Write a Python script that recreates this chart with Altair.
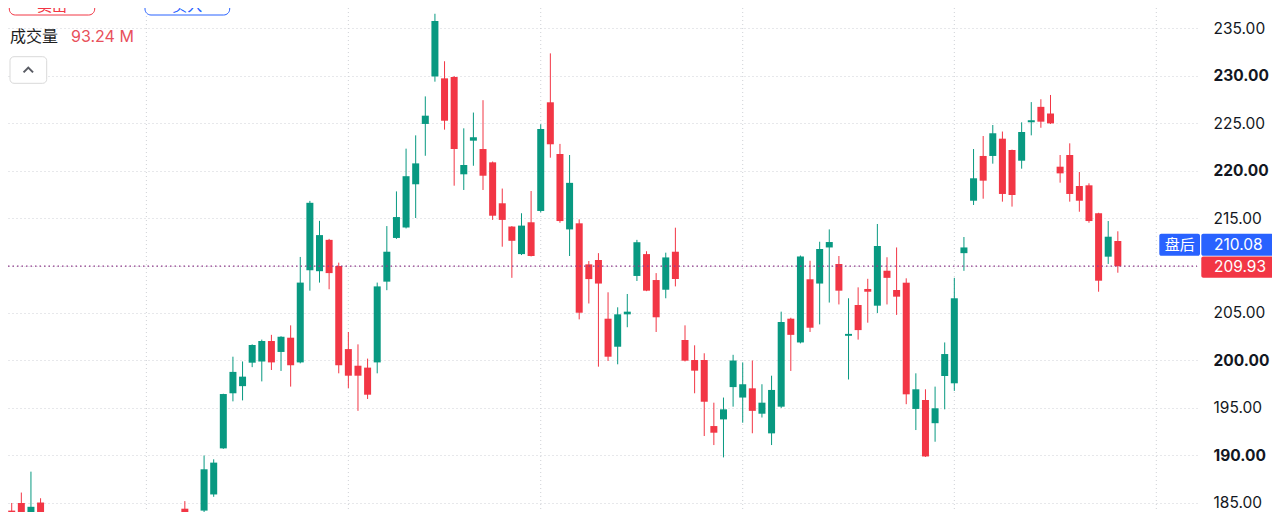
import altair as alt
import pandas as pd

# ---- candle data (x = bar index, prices in USD) ----
idx = [0, 1, 2, 3, 4, 19,
       21, 22, 23, 24, 25, 26, 27, 28, 29, 30,
       31, 32, 33, 34, 35, 36, 37, 38, 39, 40,
       41, 42, 43, 44, 45, 46, 47, 48, 49, 50,
       51, 52, 53, 54, 55, 56, 57, 58, 59, 60,
       61, 62, 63, 64, 65, 66, 67, 68, 69, 70,
       71, 72, 73, 74, 75, 76, 77, 78, 79, 80,
       81, 82, 83, 84, 85, 86, 87, 88, 89, 90,
       91, 92, 93, 94, 95, 96, 97, 98, 99, 100,
       101, 102, 103, 104, 105, 106, 107, 108, 109, 110,
       111, 112, 113, 114, 115, 116]

opens = [183.5, 184.2, 185.0, 182.5, 185.05, 184.4,
         184.2, 185.9, 190.75, 196.55, 197.3, 199.77, 199.9, 202.05, 200.9, 202.4,
         199.8, 209.5, 209.4, 212.7, 209.95, 201.2, 199.45, 199.25, 199.8, 208.3,
         212.9, 214.0, 218.55, 224.9, 229.9, 229.7, 229.84, 219.6, 223.14, 222.26,
         220.86, 216.55, 214.1, 211.2, 214.55, 215.74, 227.18, 221.74, 213.8, 214.44,
         210.12, 210.58, 204.4, 201.45, 204.86, 208.9, 211.2, 208.47, 207.45, 211.45,
         202.16, 200.05, 200.05, 193.1, 193.8, 197.2, 196.1, 197.07, 194.4, 192.33,
         195.14, 204.4, 201.9, 208.55, 208.1, 211.9, 210.16, 202.6, 205.84, 207.53,
         205.77, 209.45, 207.42, 208.19, 194.9, 195.84, 193.4, 198.37, 197.6, 211.3,
         216.82, 221.53, 221.53, 223.35, 222.16, 221.03, 225.07, 226.7, 226.0, 220.4,
         221.63, 218.37, 218.44, 215.5, 210.93, 212.58]

highs = [186.3, 185.0, 186.1, 188.3, 185.5, 185.2,
         190.0, 189.6, 196.5, 200.4, 199.9, 201.7, 202.2, 202.7, 202.55, 203.7,
         210.9, 216.8, 214.7, 212.8, 210.3, 203.0, 201.7, 200.2, 208.2, 214.15,
         217.8, 222.3, 223.7, 227.8, 236.5, 231.5, 229.95, 224.44, 226.1, 227.4,
         220.95, 218.1, 214.15, 215.5, 217.84, 224.86, 232.33, 222.8, 221.63, 214.86,
         210.47, 211.3, 207.18, 205.6, 207.0, 212.7, 211.5, 209.2, 211.35, 213.98,
         203.7, 201.6, 200.76, 195.56, 196.1, 200.6, 199.8, 200.0, 197.5, 198.4,
         205.14, 204.5, 211.05, 210.5, 212.5, 213.8, 211.0, 206.55, 207.7, 208.6,
         214.37, 210.87, 211.9, 208.65, 198.65, 196.97, 197.25, 201.9, 208.7, 213.0,
         222.26, 223.63, 224.79, 224.1, 222.2, 225.07, 227.2, 227.5, 227.95, 221.63,
         222.86, 219.84, 218.65, 215.55, 214.68, 213.6]

lows = [182.8, 182.5, 182.9, 182.0, 183.2, 183.0,
        183.6, 185.65, 190.7, 195.7, 195.8, 199.3, 197.8, 199.0, 198.9, 197.25,
        199.7, 207.35, 208.2, 207.5, 198.65, 197.1, 194.7, 195.95, 198.65, 207.4,
        212.8, 213.9, 215.0, 221.55, 229.35, 224.3, 218.4, 217.95, 220.5, 217.95,
        214.8, 211.98, 208.7, 211.1, 210.95, 215.6, 221.35, 214.5, 211.0, 204.33,
        206.0, 199.35, 199.95, 199.6, 203.5, 208.37, 207.3, 203.0, 206.55, 207.8,
        199.9, 196.55, 192.05, 191.1, 189.8, 195.14, 193.45, 192.34, 194.0, 191.1,
        195.0, 198.9, 201.8, 203.0, 203.8, 206.1, 205.9, 198.0, 202.2, 203.98,
        205.0, 205.9, 204.8, 195.4, 192.68, 189.85, 191.45, 194.86, 196.8, 209.44,
        216.37, 217.03, 220.72, 216.72, 216.2, 220.19, 223.7, 224.5, 224.9, 218.72,
        216.72, 215.66, 214.5, 207.24, 210.16, 209.24]

closes = [186.05, 183.0, 183.4, 184.6, 183.8, 183.6,
          188.55, 189.25, 196.47, 198.8, 198.3, 201.63, 202.05, 199.8, 202.5, 199.5,
          208.2, 216.6, 213.2, 209.2, 199.5, 198.4, 198.4, 196.4, 207.8, 211.45,
          215.1, 219.4, 220.75, 225.77, 235.74, 225.24, 222.26, 220.58, 223.5, 219.45,
          215.24, 214.8, 212.6, 214.2, 211.0, 224.37, 222.76, 214.68, 218.7, 205.03,
          208.57, 208.1, 200.4, 204.86, 205.14, 212.45, 207.35, 204.55, 210.85, 208.58,
          199.98, 198.93, 195.66, 192.4, 194.86, 200.0, 197.5, 194.7, 195.56, 196.9,
          204.05, 202.7, 210.95, 203.45, 211.74, 212.47, 207.35, 202.8, 203.2, 207.24,
          212.05, 208.7, 206.72, 196.44, 196.97, 189.9, 194.97, 200.68, 206.55, 211.9,
          219.18, 218.93, 223.92, 217.53, 217.42, 224.05, 225.3, 225.14, 224.96, 219.7,
          217.53, 216.82, 214.68, 208.4, 213.03, 209.93]

grid_idx = [15, 36, 56, 77, 99, 120]          # vertical (date) grid lines
price_ticks = [185, 190, 195, 200, 205, 210, 215, 220, 225, 230, 235]
last_close = 209.93
after_hours = 210.08
volume_label = "成交量"
volume_value = "93.24 M"

UP, DOWN = "#089981", "#f23645"
BLUE = "#2962ff"
GRID = "#cfd1d6"
NUMFONT = 15.5

W, H = 1189, 504

df = pd.DataFrame({"i": idx, "open": opens, "high": highs, "low": lows, "close": closes})
df["dir"] = ["up" if c >= o else "down" for o, c in zip(opens, closes)]

xscale = alt.Scale(domain=[1.134, 123.711], nice=False, zero=False)
yscale = alt.Scale(domain=[184.0526, 237.1053], nice=False, zero=False)
yaxis = alt.Axis(
    orient="right", values=price_ticks, format=".2f", ticks=False, domain=False,
    labelPadding=16, labelFontSize=NUMFONT, labelFont="Inter", labelColor="#131722",
    labelFontWeight={"condition": {"test": "datum.value % 10 === 0", "value": "bold"}, "value": "normal"},
    grid=True, gridColor=GRID, gridDash=[1, 3], gridWidth=1, title=None,
)
color = alt.Color("dir:N", scale=alt.Scale(domain=["up", "down"], range=[UP, DOWN]), legend=None)

vgrid = alt.Chart(pd.DataFrame({"i": grid_idx})).mark_rule(
    color=GRID, strokeDash=[1, 3], strokeWidth=1
).encode(x=alt.X("i:Q", scale=xscale, axis=None), y=alt.value(0), y2=alt.value(H))

base = alt.Chart(df)
wicks = base.mark_rule(strokeWidth=1, clip=True).encode(
    x=alt.X("i:Q", scale=xscale, axis=None),
    y=alt.Y("low:Q", scale=yscale, axis=yaxis),
    y2="high:Q",
    color=color,
)
bodies = base.mark_bar(size=7, clip=True).encode(
    x=alt.X("i:Q", scale=xscale, axis=None),
    y=alt.Y("open:Q", scale=yscale, axis=yaxis),
    y2="close:Q",
    color=color,
)

pdf = pd.DataFrame({"p": [last_close]})
pbase = alt.Chart(pdf)
py = alt.Y("p:Q", scale=yscale, axis=yaxis)

price_line = pbase.mark_rule(color="#8e3b8a", strokeDash=[1.5, 3], strokeWidth=1.2).encode(
    y=py, x=alt.value(0), x2=alt.value(W)
)

red_tag = pbase.mark_rect(color=DOWN, cornerRadius=2, yOffset=-9.7, y2Offset=11.6).encode(
    y=py, y2="p:Q", x=alt.value(1193.3), x2=alt.value(1265.3)
)
red_txt = pbase.mark_text(text=f"{last_close:.2f}", color="white", fontSize=NUMFONT, font="Inter",
                          align="left", baseline="middle", dy=1).encode(y=py, x=alt.value(1206))

blue_tag = pbase.mark_rect(color=BLUE, cornerRadius=2, yOffset=-32.4, y2Offset=-10.4).encode(
    y=py, y2="p:Q", x=alt.value(1193.3), x2=alt.value(1265.3)
)
blue_txt = pbase.mark_text(text=f"{after_hours:.2f}", color="white", fontSize=NUMFONT, font="Inter",
                           align="left", baseline="middle", dy=-21.4).encode(y=py, x=alt.value(1206))
ah_tag = pbase.mark_rect(color=BLUE, cornerRadius=2, yOffset=-32.4, y2Offset=-10.4).encode(
    y=py, y2="p:Q", x=alt.value(1151.3), x2=alt.value(1192)
)
ah_txt = pbase.mark_text(text="盘后", color="white", fontSize=15, font="Noto Sans CJK SC",
                         align="center", baseline="middle", dy=-21.4).encode(y=py, x=alt.value(1171.7))

one = alt.Chart(pd.DataFrame({"a": [0]}))
sell_btn = one.mark_rect(fill="white", stroke=DOWN, strokeWidth=1, cornerRadius=6).encode(
    x=alt.value(1.3), x2=alt.value(86.7), y=alt.value(-20), y2=alt.value(7))
buy_btn = one.mark_rect(fill="white", stroke=BLUE, strokeWidth=1, cornerRadius=6).encode(
    x=alt.value(137), x2=alt.value(221.7), y=alt.value(-20), y2=alt.value(7))
sell_txt = one.mark_text(text="卖出", color=DOWN, fontSize=15, font="Noto Sans CJK SC",
                         align="center", baseline="bottom").encode(x=alt.value(44), y=alt.value(6))
buy_txt = one.mark_text(text="买入", color=BLUE, fontSize=15, font="Noto Sans CJK SC",
                        align="center", baseline="bottom").encode(x=alt.value(179.3), y=alt.value(6))

vol_lbl = one.mark_text(text=volume_label, color="#1e1e1e", fontSize=16, font="Noto Sans CJK SC",
                        align="left", baseline="middle").encode(x=alt.value(2), y=alt.value(29))
vol_val = one.mark_text(text=volume_value, color="#e8505b", fontSize=16, font="Inter",
                        align="left", baseline="middle").encode(x=alt.value(63), y=alt.value(29))
toggle_box = one.mark_rect(fill="white", stroke="#d9d9d9", strokeWidth=1, cornerRadius=4).encode(
    x=alt.value(2), x2=alt.value(38.7), y=alt.value(48.7), y2=alt.value(75.3))
toggle_icon = one.mark_point(shape="M-1,0.5L0,-0.5L1,0.5", filled=False, size=90,
                             strokeWidth=2, color="#131722").encode(x=alt.value(20.3), y=alt.value(62))

chart = alt.layer(
    vgrid, wicks, bodies, price_line,
    red_tag, red_txt, blue_tag, blue_txt, ah_tag, ah_txt,
    sell_btn, buy_btn, sell_txt, buy_txt, vol_lbl, vol_val, toggle_box, toggle_icon,
).properties(
    width=W, height=H,
    autosize=alt.AutoSizeParams(type="none"),
    padding={"left": 0, "top": 0, "right": 75, "bottom": 0},
    background="white",
).configure_view(strokeWidth=0)

chart.save("out.html", embed_options={"renderer": "svg", "actions": False})
